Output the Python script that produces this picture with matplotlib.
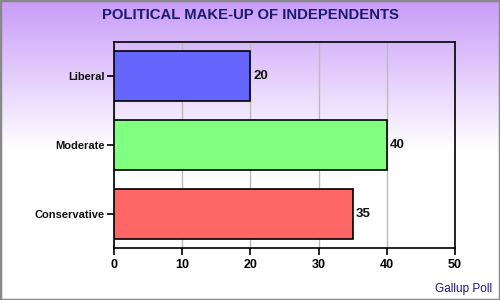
import numpy as np
import matplotlib
matplotlib.use('Agg')
from matplotlib import pyplot as plt

categories = ['Conservative', 'Moderate', 'Liberal']
values = [35, 40, 20]
colors = ['#ff6666', '#80ff80', '#6666ff']
x_ticks = [0, 10, 20, 30, 40, 50]

plt.rcParams['font.family'] = ['Liberation Sans', 'DejaVu Sans']

fig = plt.figure(figsize=(5, 3), dpi=100)

# purple to white background gradient
bg = fig.add_axes([0, 0, 1, 1], zorder=-1)
grad = np.ones((300, 1, 3))
top = np.array([200, 156, 248]) / 255.0
for i in range(300):
    t = min(i / 150.0, 1.0)
    grad[i, 0] = top * (1 - t) + np.array([1.0, 1.0, 1.0]) * t
bg.imshow(grad, aspect='auto', extent=[0, 1, 0, 1])
bg.set_axis_off()
bg.add_patch(plt.Rectangle((0, 0), 1, 1, transform=bg.transAxes, fill=False,
                           edgecolor='#888888', linewidth=2.5))

ax = fig.add_axes([114 / 500, 1 - 248 / 300, 341 / 500, 206 / 300])
ax.set_facecolor('none')
ypos = np.arange(len(categories))
ax.barh(ypos, values, height=0.725, color=colors, edgecolor='black', linewidth=1.2, zorder=3)
for y, v in zip(ypos, values):
    ax.text(v + 0.4, y, str(v), va='center', ha='left', fontsize=9.5, fontweight='bold', color='#111111')

ax.set_xlim(0, 50)
ax.set_ylim(-0.5, 2.5)
ax.set_xticks(x_ticks)
ax.set_xticklabels([str(t) for t in x_ticks], fontsize=9, fontweight='bold')
ax.set_yticks(ypos)
ax.set_yticklabels(categories, fontsize=8, fontweight='bold', color='#111111')
ax.tick_params(axis='x', length=5, width=1.2, pad=3)
ax.tick_params(axis='y', length=5, width=1.2, pad=2)
ax.grid(axis='x', color='#bbbbbb', linewidth=1, zorder=0)
for s in ax.spines.values():
    s.set_linewidth(1.2)

fig.text(0.5, 1 - 15 / 300, 'POLITICAL MAKE-UP OF INDEPENDENTS', ha='center', va='center',
         fontsize=10.7, fontweight='bold', color='#1a1a6e')
fig.text(492 / 500, 1 - 292 / 300, 'Gallup Poll', ha='right', va='baseline',
         fontsize=8.5, color='#1a1a80')

fig.savefig('out.png', dpi=100)
